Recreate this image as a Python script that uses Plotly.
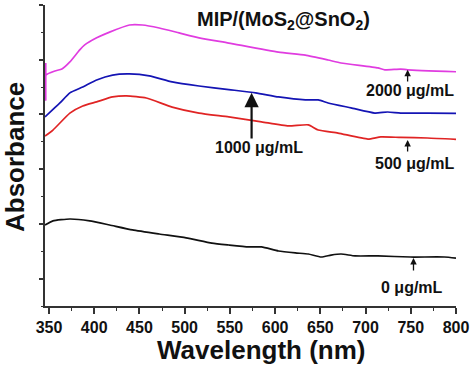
import plotly.graph_objects as go

# ---- data ----
wl_2000 = [346.4, 346.4, 346.7, 356.6, 364.3, 373.1, 384.0, 389.5, 402.7, 417.0, 439.0, 453.2,
           471.9, 493.9, 515.9, 548.8, 603.7, 633.4, 658.6, 672.9, 713.6, 721.3, 738.8, 746.5, 800.0]
abs_2000 = [7.88, 6.53, 7.44, 7.59, 7.66, 7.92, 8.36, 8.54, 8.80, 9.01, 9.27, 9.27,
            9.16, 8.98, 8.80, 8.61, 8.28, 8.17, 7.99, 7.88, 7.70, 7.63, 7.66, 7.63, 7.56]

wl_1000 = [345.6, 362.1, 373.1, 387.3, 402.7, 420.3, 439.0, 460.9, 486.2, 515.9, 548.8,
           578.5, 603.7, 633.4, 647.7, 658.6, 683.9, 710.3, 724.5, 738.8, 768.5, 800.0]
abs_1000 = [5.91, 6.42, 6.79, 7.00, 7.26, 7.44, 7.48, 7.41, 7.19, 7.04, 6.91,
            6.79, 6.64, 6.53, 6.53, 6.42, 6.24, 6.05, 6.09, 6.05, 6.05, 6.04]

wl_500 = [345.6, 354.4, 373.1, 387.3, 402.7, 420.3, 435.7, 457.6, 486.2, 515.9, 548.8,
          585.0, 614.7, 636.7, 647.7, 669.6, 702.6, 716.9, 738.8, 768.5, 800.0]
abs_500 = [5.21, 5.43, 6.05, 6.31, 6.46, 6.64, 6.68, 6.60, 6.27, 6.05, 5.91,
           5.73, 5.58, 5.62, 5.43, 5.32, 5.10, 5.18, 5.16, 5.14, 5.09]

wl_0 = [345.6, 354.4, 373.1, 395.0, 417.0, 442.3, 471.9, 501.6, 530.1, 548.8, 570.8, 585.0,
        603.7, 622.4, 636.7, 651.0, 661.9, 672.9, 688.3, 713.6, 749.8, 787.2, 800.0]
abs_0 = [1.96, 2.11, 2.18, 2.11, 1.96, 1.78, 1.63, 1.49, 1.30, 1.23, 1.16, 1.16,
         1.01, 0.94, 0.90, 0.79, 0.86, 0.90, 0.83, 0.83, 0.79, 0.79, 0.75]

x_ticks = [350, 400, 450, 500, 550, 600, 650, 700, 750, 800]

FONT = "Liberation Sans, Arial, sans-serif"

fig = go.Figure()
series = [
    (wl_0, abs_0, "#111111"),
    (wl_500, abs_500, "#E02424"),
    (wl_1000, abs_1000, "#1414B4"),
    (wl_2000, abs_2000, "#E03CE0"),
]
for xs, ys, col in series:
    fig.add_trace(go.Scatter(x=xs, y=ys, mode="lines",
                             line=dict(color=col, width=1.7, shape="spline", smoothing=0.5),
                             showlegend=False, hoverinfo="skip"))

axis_col = "#333333"
fig.update_xaxes(range=[345.6, 800], tickvals=x_ticks, ticktext=[str(v) for v in x_ticks],
                 showline=True, linecolor=axis_col, linewidth=2, mirror=False,
                 ticks="outside", ticklen=6, tickwidth=1.5, tickcolor=axis_col,
                 minor=dict(dtick=25, tick0=350, ticks="outside", ticklen=3, tickwidth=1.2, tickcolor=axis_col),
                 showgrid=False, zeroline=False,
                 tickfont=dict(family=FONT, size=16, color="#111", weight="bold"))
fig.update_yaxes(range=[-1, 10], tick0=0, dtick=2, showticklabels=False,
                 showline=True, linecolor=axis_col, linewidth=2, mirror=False,
                 ticks="outside", ticklen=4, tickwidth=1.5, tickcolor=axis_col,
                 minor=dict(dtick=1, tick0=1, ticks="outside", ticklen=2, tickwidth=1.2, tickcolor=axis_col),
                 showgrid=False, zeroline=False)

# axis titles
title_font = dict(family=FONT, size=26, color="#111", weight="bold")
fig.add_annotation(x=0.5245, y=-0.146, xref="paper", yref="paper", text="Wavelength (nm)",
                   showarrow=False, font=title_font, xanchor="center", yanchor="middle")
fig.add_annotation(x=-0.073, y=0.495, xref="paper", yref="paper", text="Absorbance",
                   showarrow=False, font=title_font, xanchor="center", yanchor="middle", textangle=-90)

lab_font = dict(family=FONT, size=16, color="#111", weight="bold")
labels = [
    (748.7, 6.89, "2000 μg/mL"),
    (581.8, 4.81, "1000 μg/mL"),
    (754.2, 4.19, "500 μg/mL"),
    (750.9, -0.31, "0 μg/mL"),
]
for x, y, t in labels:
    fig.add_annotation(x=x, y=y, xref="x", yref="y", text=t, showarrow=False,
                       font=lab_font, xanchor="center", yanchor="middle")

arrows = [
    (746.5, 7.63, 746.5, 7.15, 1.3, 1.0),
    (574.0, 6.79, 574.0, 5.07, 2.2, 1.3),
    (746.5, 5.07, 746.5, 4.59, 1.3, 1.0),
    (753.0, 0.75, 753.0, 0.24, 1.3, 1.0),
]
for hx, hy, tx, ty, w, s in arrows:
    fig.add_annotation(x=hx, y=hy, ax=tx, ay=ty, xref="x", yref="y", axref="x", ayref="y",
                       text="", showarrow=True, arrowhead=2, arrowsize=s, arrowwidth=w,
                       arrowcolor="#111", standoff=0, startstandoff=0)

fig.add_annotation(x=609, y=9.45, xref="x", yref="y",
                   text="MIP/(MoS<sub>2</sub>@SnO<sub>2</sub>)", showarrow=False,
                   font=dict(family=FONT, size=20, color="#111", weight="bold"),
                   xanchor="center", yanchor="middle")

fig.update_layout(width=474, height=365, margin=dict(l=45, r=15, t=5, b=59),
                  plot_bgcolor="white", paper_bgcolor="white")

fig.write_html("out.html", config={"displayModeBar": False},
               post_script="document.body.style.margin='0px';document.body.style.overflow='hidden';")
